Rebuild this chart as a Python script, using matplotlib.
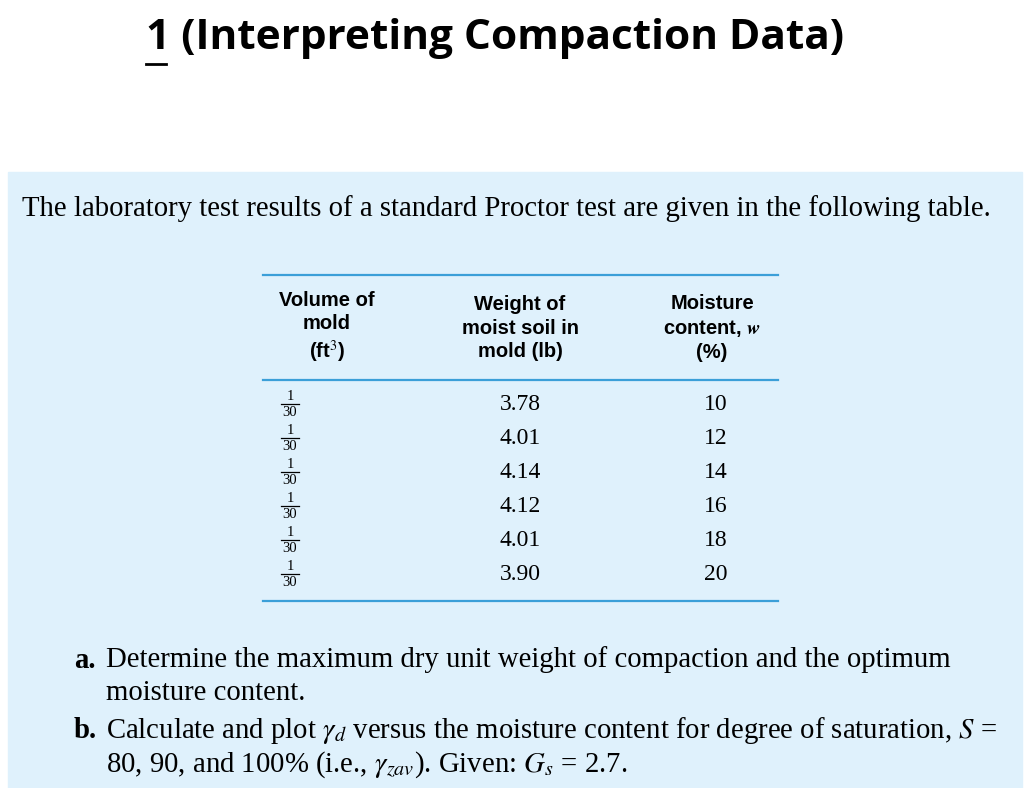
import matplotlib.pyplot as plt

plt.rcParams["mathtext.fontset"] = "stix"

title = "1 (Interpreting Compaction Data)"
intro = "The laboratory test results of a standard Proctor test are given in the following table."
headers = ["Volume of\nmold\n(ft$^3$)", "Weight of\nmoist soil in\nmold (lb)", "Moisture\ncontent, $\\mathbfit{w}$\n(%)"]
mold_volume = ["1/30"] * 6
moist_weight = ["3.78", "4.01", "4.14", "4.12", "4.01", "3.90"]
moisture = ["10", "12", "14", "16", "18", "20"]

fig = plt.figure(figsize=(10.24, 7.88), dpi=100)
ax = fig.add_axes([0, 0, 1, 1])
ax.set_xlim(0, 1024)
ax.set_ylim(788, 0)
ax.axis("off")

# title
ax.text(146, 38, title, fontsize=30.5, fontweight="bold", family="Open Sans", va="center", ha="left")
ax.plot([146, 166], [64, 64], color="black", lw=2)

# blue panel
ax.add_patch(plt.Rectangle((8, 172), 1014, 616, color="#dff1fc", zorder=0))

serif = "Liberation Serif"
fs = 20.7
ax.text(22, 209, intro, fontsize=fs, family=serif, va="center")

# table rules
blue = "#3b9fd8"
for y in [275, 380, 601]:
    ax.plot([263, 778], [y, y], color=blue, lw=1.6)

cols = [327, 520, 712]
for x, h in zip(cols, headers):
    ax.text(x, 328, h, fontsize=14.5, fontweight="bold", family="Liberation Sans",
            ha="center", va="center", linespacing=1.3)

y0, dy = 404, 34
for i in range(len(moist_weight)):
    y = y0 + i * dy
    num, den = mold_volume[i].split("/")
    ax.text(290, y - 8, num, fontsize=10.5, family=serif, ha="center", va="center")
    ax.plot([281, 299], [y, y], color="black", lw=0.9)
    ax.text(290, y + 8, den, fontsize=10.5, family=serif, ha="center", va="center")
    ax.text(520, y, moist_weight[i], fontsize=17, family=serif, ha="center", va="center")
    ax.text(716, y, moisture[i], fontsize=17, family=serif, ha="center", va="center")

# questions
ax.text(74, 660, "a.", fontsize=fs, family=serif, fontweight="bold", va="center")
ax.text(106, 660, "Determine the maximum dry unit weight of compaction and the optimum",
        fontsize=fs, family=serif, va="center")
ax.text(106, 693, "moisture content.", fontsize=fs, family=serif, va="center")
ax.text(74, 731, "b.", fontsize=fs, family=serif, fontweight="bold", va="center")
ax.text(106, 731, "Calculate and plot $\\gamma_d$ versus the moisture content for degree of saturation, $S$ =",
        fontsize=fs, family=serif, va="center")
ax.text(106, 765, "80, 90, and 100% (i.e., $\\gamma_{zav}$). Given: $G_s$ = 2.7.",
        fontsize=fs, family=serif, va="center")

fig.savefig("out.png", dpi=100)
